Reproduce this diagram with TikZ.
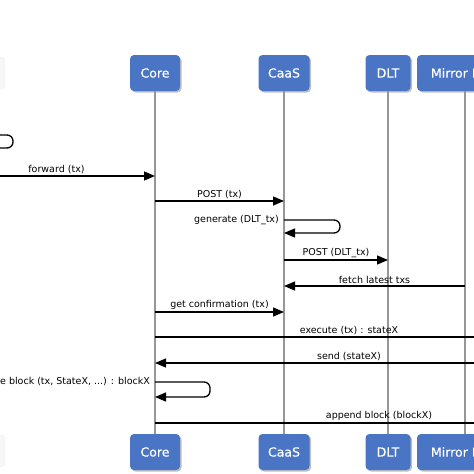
\documentclass[tikz,border=0pt]{standalone}
\usepackage{fontspec}
\setmainfont{DejaVu Sans}
\newfontfamily\hdrfont{DejaVu Sans}[FakeBold=0.5]
\usetikzlibrary{arrows.meta,shadows}
\definecolor{boxblue}{RGB}{74,116,196}
\definecolor{lifegray}{RGB}{150,150,150}
\begin{document}
\begin{tikzpicture}[x=1pt,y=-1pt,
  part/.style={fill=boxblue, rounded corners=4pt, minimum height=36pt, text=white,
    font=\hdrfont\fontsize{12.5}{14}\selectfont, inner sep=0pt,
    drop shadow={shadow xshift=1.5pt, shadow yshift=-1.5pt, fill=black!50, opacity=0.5}},
  ghost/.style={fill=gray!6, draw=gray!12, rounded corners=4pt, minimum width=60pt, minimum height=32pt},
  lifeline/.style={draw=lifegray, line width=1.4pt},
  msg/.style={draw=black, line width=1.3pt, -{Triangle[length=11pt,width=9pt]}},
  loopmsg/.style={msg, rounded corners=6pt},
  lbl/.style={font=\fontsize{9.5}{11}\selectfont, inner sep=0pt, text=black},
  wide/.style={inner xsep=14pt, text width=68pt, align=left},
]
\useasboundingbox (0,0) rectangle (474,474);
\clip (0,0) rectangle (474,474);

% participants (top)
\node[ghost] (userT) at (-25,73) {};
\node[part, minimum width=50pt] (coreT) at (155,73) {Core};
\node[part, minimum width=51pt] (caasT) at (284,73) {CaaS};
\node[part, minimum width=45pt] (dltT) at (388,73) {DLT};
\node[part, wide] (mirT) at (465,73) {Mirror DLT};
% participants (bottom)
\node[ghost] (userB) at (-25,451) {};
\node[part, minimum width=50pt] (coreB) at (155,452) {Core};
\node[part, minimum width=51pt] (caasB) at (284,452) {CaaS};
\node[part, minimum width=45pt] (dltB) at (388,452) {DLT};
\node[part, wide] (mirB) at (465,452) {Mirror DLT};

% lifelines
\draw[lifeline] (coreT.south) -- (coreB.north);
\draw[lifeline] (caasT.south) -- (caasB.north);
\draw[lifeline] (dltT.south) -- (dltB.north);
\draw[lifeline] (mirT.south) -- (mirB.north);

% off-picture lifelines
\coordinate (userX) at (-42,0);
\coordinate (p5X) at (543,0);
\coordinate (p6X) at (603,0);

% 0: self loop of left participant
\coordinate (l0a) at (userX |- 0,135);
\coordinate (l0b) at (userX |- 0,148);
\draw[loopmsg] (l0a) -- ++(55,0) -- ++(0,13) -- (l0b);

% 1: forward (tx)
\coordinate (m1a) at (userX |- 0,176);
\coordinate (m1b) at (coreT |- 0,176);
\draw[msg] (m1a) -- node[lbl, above=2pt] {forward (tx)} (m1b);

% 2: POST (tx)
\coordinate (m2a) at (coreT |- 0,201);
\coordinate (m2b) at (caasT |- 0,201);
\draw[msg] (m2a) -- node[lbl, above=2pt] {POST (tx)} (m2b);

% 3: generate (DLT_tx)
\coordinate (m3a) at (caasT |- 0,220);
\coordinate (m3b) at (caasT |- 0,233);
\draw[loopmsg] (m3a) -- ++(56,0) -- ++(0,13) -- (m3b);
\node[lbl, anchor=east, xshift=-5pt] (m3l) at (m3a) {generate (DLT\_tx)};

% 4: POST (DLT_tx)
\coordinate (m4a) at (caasT |- 0,260);
\coordinate (m4b) at (dltT |- 0,260);
\draw[msg] (m4a) -- node[lbl, above=2pt] {POST (DLT\_tx)} (m4b);

% 5: fetch latest txs
\coordinate (m5a) at (mirT |- 0,286);
\coordinate (m5b) at (caasT |- 0,286);
\draw[msg] (m5a) -- node[lbl, above=2pt] {fetch latest txs} (m5b);

% 6: get confirmation (tx)
\coordinate (m6a) at (coreT |- 0,312);
\coordinate (m6b) at (caasT |- 0,312);
\draw[msg] (m6a) -- node[lbl, above=2pt] {get confirmation (tx)} (m6b);

% 7: execute (tx) : stateX
\coordinate (m7a) at (coreT |- 0,337);
\coordinate (m7b) at (p5X |- 0,337);
\draw[msg] (m7a) -- node[lbl, above=2pt] {execute (tx) : stateX} (m7b);

% 8: send (stateX)
\coordinate (m8a) at (p5X |- 0,363);
\coordinate (m8b) at (coreT |- 0,363);
\draw[msg] (m8a) -- node[lbl, above=2pt] {send (stateX)} (m8b);

% 9: create block
\coordinate (m9a) at (coreT |- 0,382);
\coordinate (m9b) at (coreT |- 0,397);
\draw[loopmsg] (m9a) -- ++(55,0) -- ++(0,15) -- (m9b);
\node[lbl, anchor=east, xshift=-5pt] (m9l) at (m9a) {create block (tx, StateX, ...) : blockX};

% 10: append block (blockX)
\coordinate (m10a) at (coreT |- 0,423);
\coordinate (m10b) at (p6X |- 0,423);
\draw[msg] (m10a) -- node[lbl, above=2pt] {append block (blockX)} (m10b);
\end{tikzpicture}
\end{document}
